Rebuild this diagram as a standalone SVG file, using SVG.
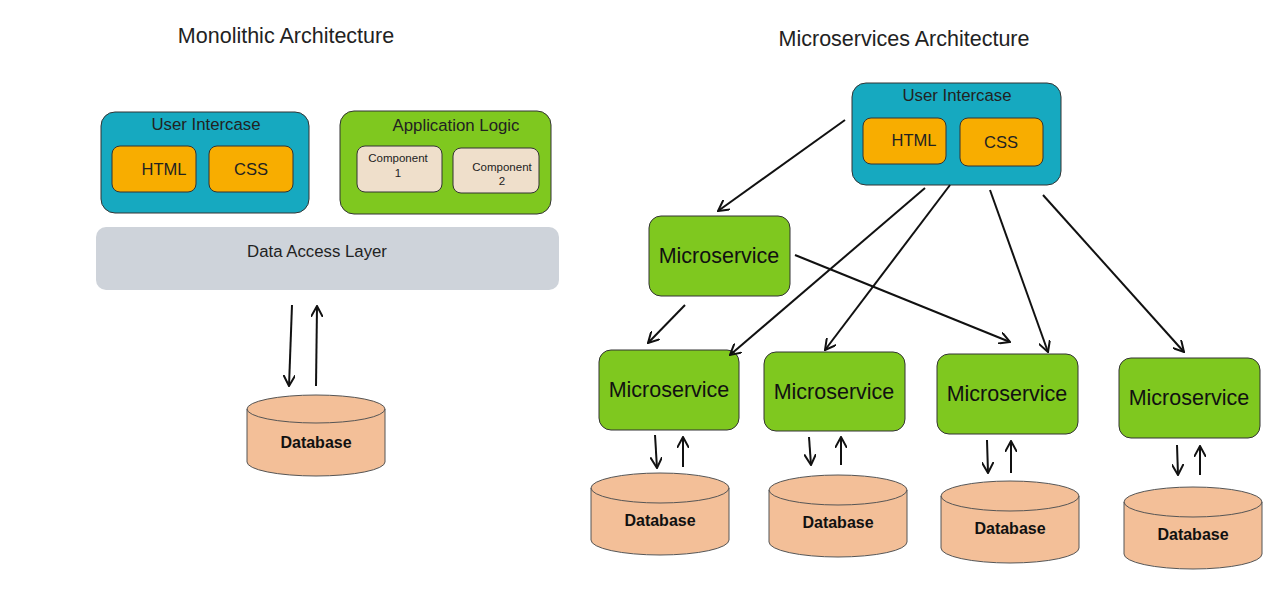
<svg xmlns="http://www.w3.org/2000/svg" width="1280" height="609" viewBox="0 0 1280 609">
<style>
text{font-family:"Liberation Sans",Arial,sans-serif;fill:#222}
.t{font-size:21.5px;text-anchor:middle}
.ui{fill:#16a9c0;stroke:#333;stroke-width:1}
.or{fill:#f8ad00;stroke:#333;stroke-width:1}
.gr{fill:#7fc81f;stroke:#333;stroke-width:1}
.cp{fill:#efdfcb;stroke:#333;stroke-width:1}
.db{fill:#f3bf98;stroke:#555;stroke-width:1}
.ms{font-size:21.5px;text-anchor:middle;fill:#111}
.lb{font-size:16.8px;text-anchor:middle}
.dbt{font-size:16px;font-weight:bold;text-anchor:middle;fill:#111}
.c line{stroke:#111;stroke-width:2;marker-end:url(#a)}
</style>
<defs><marker id="a" viewBox="0 0 12 12" refX="11" refY="6" markerWidth="12" markerHeight="12" markerUnits="userSpaceOnUse" orient="auto"><path d="M0,0 L11,6 L0,12" fill="none" stroke="#111" stroke-width="2"/></marker></defs>
<text class="t" x="286" y="43">Monolithic Architecture</text>
<text class="t" x="904" y="46">Microservices Architecture</text>
<g id="mono-ui"><rect class="ui" x="101" y="112" width="208" height="101" rx="14"/><text class="lb" x="206" y="130">User Intercase</text>
<rect class="or" x="112" y="146" width="84" height="46" rx="8"/><text x="164" y="175" font-size="16.5" text-anchor="middle">HTML</text>
<rect class="or" x="209" y="146" width="84" height="46" rx="8"/><text x="251" y="175" font-size="16.5" text-anchor="middle">CSS</text></g>
<g id="mono-app"><rect class="gr" x="340" y="111" width="211" height="103" rx="14"/><text class="lb" x="456" y="131">Application Logic</text>
<rect class="cp" x="357" y="146" width="85" height="46" rx="8"/><text x="398" y="162" font-size="11.5" text-anchor="middle">Component</text><text x="398" y="177" font-size="11.5" text-anchor="middle">1</text>
<rect class="cp" x="453" y="148" width="86" height="45" rx="8"/><text x="502" y="171" font-size="11.5" text-anchor="middle">Component</text><text x="502" y="185" font-size="11.5" text-anchor="middle">2</text></g>
<g id="mono-dal"><rect x="96" y="227" width="463" height="63" rx="10" fill="#ced3da"/><text class="lb" x="317" y="257">Data Access Layer</text></g>
<g id="mono-db"><path class="db" d="M247,409 A69,14 0 0 1 385,409 L385,462 A69,14 0 0 1 247,462 Z"/><path d="M247,409 A69,14 0 0 0 385,409" fill="none" stroke="#555"/><text class="dbt" x="316" y="448">Database</text></g>
<g id="ms-ui"><rect class="ui" x="852" y="83" width="209" height="102" rx="14"/><text class="lb" x="957" y="101">User Intercase</text>
<rect class="or" x="863" y="118" width="83" height="46" rx="8"/><text x="914" y="146" font-size="16.5" text-anchor="middle">HTML</text>
<rect class="or" x="960" y="118" width="83" height="48" rx="8"/><text x="1001" y="148" font-size="16.5" text-anchor="middle">CSS</text></g>
<g id="ms0"><rect class="gr" x="649" y="216" width="141" height="80" rx="12"/><text class="ms" x="719" y="263">Microservice</text></g>
<g id="ms1"><rect class="gr" x="599" y="350" width="140" height="80" rx="12"/><text class="ms" x="669" y="397">Microservice</text></g>
<g id="ms2"><rect class="gr" x="764" y="352" width="141" height="79" rx="12"/><text class="ms" x="834" y="399">Microservice</text></g>
<g id="ms3"><rect class="gr" x="937" y="354" width="141" height="80" rx="12"/><text class="ms" x="1007" y="401">Microservice</text></g>
<g id="ms4"><rect class="gr" x="1119" y="358" width="141" height="80" rx="12"/><text class="ms" x="1189" y="405">Microservice</text></g>
<g id="db1"><path class="db" d="M591,488 A69,15 0 0 1 729,488 L729,540 A69,15 0 0 1 591,540 Z"/><path d="M591,488 A69,15 0 0 0 729,488" fill="none" stroke="#555"/><text class="dbt" x="660" y="526">Database</text></g>
<g id="db2"><path class="db" d="M769,490 A69,15 0 0 1 907,490 L907,542 A69,15 0 0 1 769,542 Z"/><path d="M769,490 A69,15 0 0 0 907,490" fill="none" stroke="#555"/><text class="dbt" x="838" y="528">Database</text></g>
<g id="db3"><path class="db" d="M941,496 A69,15 0 0 1 1079,496 L1079,548 A69,15 0 0 1 941,548 Z"/><path d="M941,496 A69,15 0 0 0 1079,496" fill="none" stroke="#555"/><text class="dbt" x="1010" y="534">Database</text></g>
<g id="db4"><path class="db" d="M1124,502 A69,15 0 0 1 1262,502 L1262,554 A69,15 0 0 1 1124,554 Z"/><path d="M1124,502 A69,15 0 0 0 1262,502" fill="none" stroke="#555"/><text class="dbt" x="1193" y="540">Database</text></g>
<g id="connectors" class="c">
<line x1="292" y1="305" x2="289" y2="386"/><line x1="316" y1="386" x2="317" y2="306"/>
<line x1="845" y1="120" x2="718" y2="211"/>
<line x1="685" y1="305" x2="648" y2="343"/>
<line x1="925" y1="188" x2="730" y2="355"/>
<line x1="950" y1="185" x2="825" y2="350"/>
<line x1="990" y1="190" x2="1048" y2="352"/>
<line x1="1043" y1="195" x2="1184" y2="352"/>
<line x1="795" y1="255" x2="1010" y2="342"/>
<line x1="655" y1="435" x2="657" y2="468"/><line x1="683" y1="467" x2="683" y2="437"/>
<line x1="809" y1="437" x2="811" y2="465"/><line x1="841" y1="465" x2="841" y2="437"/>
<line x1="987" y1="440" x2="988" y2="473"/><line x1="1011" y1="473" x2="1011" y2="441"/>
<line x1="1177" y1="445" x2="1178" y2="475"/><line x1="1200" y1="475" x2="1200" y2="446"/>
</g>
</svg>
